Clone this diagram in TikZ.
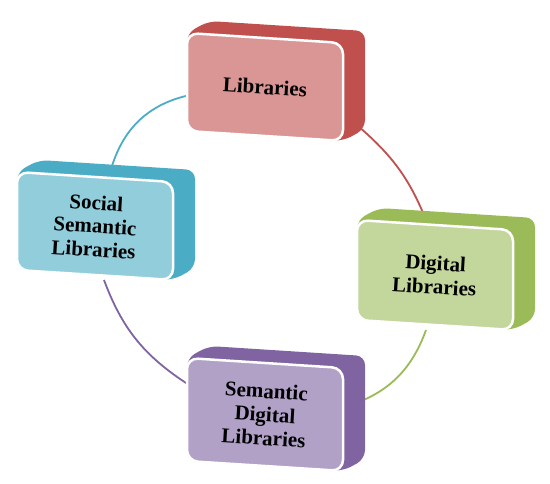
\documentclass[tikz,border=0pt]{standalone}
\usepackage{fontspec}
\setmainfont{Liberation Serif}
\definecolor{redD}{HTML}{C0504D}\definecolor{redL}{HTML}{D99694}
\definecolor{bluD}{HTML}{4BACC6}\definecolor{bluL}{HTML}{92CDDC}
\definecolor{grnD}{HTML}{9BBB59}\definecolor{grnL}{HTML}{C3D69B}
\definecolor{purD}{HTML}{8064A2}\definecolor{purL}{HTML}{B2A1C7}
\tikzset{
  arcline/.style={line width=1.8pt},
  boxtext/.style={rotate=-3.5, align=center, font=\bfseries\fontsize{21}{23.5}\selectfont, inner sep=0pt},
}
% #1 x, #2 y (top-left of front face), #3 height, #4 dark, #5 light, #6 name, #7 text
\newcommand\slbox[7]{%
  \fill[#4, rounded corners=9pt] (#1+22,#2-12) -- (#1+178,#2-2) -- (#1+178,#2+#3-2)
    -- (#1+156,#2+10+#3) -- (#1,#2+#3) -- (#1,#2) -- cycle;
  \filldraw[fill=#5, draw=white, line width=2.5pt, rounded corners=11pt]
    (#1,#2) -- (#1+156,#2+10) -- (#1+156,#2+10+#3) -- (#1,#2+#3) -- cycle;
  \node[boxtext] (#6) at (#1+78,#2+5+#3/2) {#7};
}
\begin{document}
\begin{tikzpicture}[x=1pt,y=-1pt]
\useasboundingbox (0,0) rectangle (550,483);
% arc end points
\coordinate (b1) at (112,166);
\coordinate (b2) at (190,95);
\coordinate (r1) at (358,126);
\coordinate (r2) at (428,225);
\coordinate (g1) at (426,330);
\coordinate (g2) at (344,407);
\coordinate (p1) at (104,280);
\coordinate (p2) at (186,383);
\draw[arcline, bluD] (b1) to[bend left=30] (b2);
\draw[arcline, redD] (r1) to[bend left=14] (r2);
\draw[arcline, grnD] (g1) to[bend left=27] (g2);
\draw[arcline, purD] (p1) to[bend right=18] (p2);
% boxes
\slbox{187}{33}{98}{redD}{redL}{lib}{Libraries}
\slbox{17}{172}{98}{bluD}{bluL}{ssl}{Social\\Semantic\\Libraries}
\slbox{357}{220}{100}{grnD}{grnL}{dl}{Digital\\Libraries}
\slbox{187}{358}{103}{purD}{purL}{sdl}{Semantic\\Digital\\Libraries}
\end{tikzpicture}
\end{document}
